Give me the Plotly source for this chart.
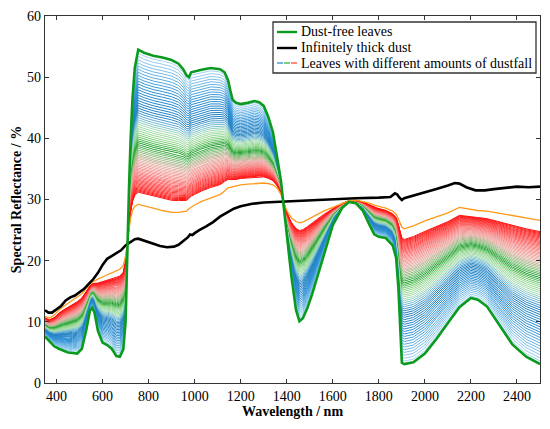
import plotly.graph_objects as go
from plotly.colors import sample_colorscale

# ---------------- data ----------------
wl = [350, 370, 390, 410, 430, 450, 470, 490, 510, 530, 545, 555, 565, 580, 600, 620, 640, 660, 675,
      690, 700, 708, 715, 722, 730, 740, 755, 780, 820, 860, 900, 930, 950, 965, 975, 985, 1000, 1030,
      1070, 1110, 1130, 1145, 1155, 1165, 1180, 1200, 1230, 1260, 1280, 1300, 1320, 1340, 1360, 1375,
      1385, 1400, 1420, 1440, 1455, 1470, 1490, 1510, 1530, 1560, 1600, 1640, 1670, 1700, 1730, 1760,
      1780, 1800, 1830, 1860, 1875, 1885, 1893, 1900, 1910, 1950, 2000, 2050, 2100, 2150, 2200, 2230,
      2270, 2320, 2380, 2440, 2500]

dust_free = [7.6, 6.8, 6.0, 5.6, 5.3, 5.0, 4.9, 4.8, 5.6, 8.8, 11.8, 12.3, 11.5, 8.5, 6.6, 6.2, 5.6, 4.4, 4.3,
             5.5, 10.0, 23.0, 32.0, 40.0, 46.5, 51.5, 54.5, 54.0, 53.5, 53.2, 52.8, 52.2, 51.3, 50.3, 50.0, 50.8, 50.9, 51.2,
             51.5, 51.3, 50.8, 49.5, 47.8, 46.3, 45.8, 45.6, 45.8, 46.1, 45.9, 45.3, 43.5, 41.0, 36.5, 33.0,
             29.5, 24.5, 17.5, 12.0, 10.1, 10.6, 12.3, 14.5, 17.0, 21.0, 25.8, 28.6, 29.6, 29.4, 28.2, 25.8,
             24.3, 23.9, 23.7, 22.5, 20.5, 15.5, 8.5, 3.3, 3.1, 3.4, 4.8, 7.2, 9.8, 12.4, 13.9, 13.6,
             12.5, 9.6, 6.3, 4.3, 3.1]

max_dustfall = [10.9, 10.6, 11.1, 11.9, 12.5, 13.0, 13.5, 14.0, 14.6, 15.5, 16.2, 16.5, 16.7, 17.0, 17.4, 17.7, 18.0, 18.3, 18.6,
                19.2, 20.8, 23.0, 25.3, 27.0, 28.2, 28.9, 29.2, 29.0, 28.6, 28.2, 27.9, 27.9, 28.0, 28.1, 28.5, 28.8, 29.1, 29.7,
                30.3, 30.8, 31.4, 31.9, 32.0, 32.1, 32.2, 32.4, 32.5, 32.6, 32.7, 32.7, 32.6, 32.4, 31.8, 30.8,
                29.7, 28.2, 27.0, 26.4, 26.2, 26.3, 26.7, 27.1, 27.5, 28.1, 28.7, 29.4, 29.8, 29.9, 29.7, 29.4,
                29.1, 28.9, 28.6, 28.1, 27.6, 26.8, 26.0, 25.5, 25.2, 25.7, 26.5, 27.1, 27.8, 28.7, 28.4, 28.2,
                28.1, 27.8, 27.4, 27.0, 26.6]

dust_wl = [350, 365, 380, 400, 420, 440, 460, 480, 500, 520, 540, 560, 580, 600, 620, 640, 660, 680, 700, 720,
           740, 755, 770, 790, 820, 850, 880, 910, 930, 950, 970, 980, 990, 1000, 1020, 1050, 1080, 1110, 1140,
           1170, 1200, 1250, 1300, 1350, 1400, 1450, 1500, 1600, 1700, 1800, 1850, 1870, 1880, 1890, 1900,
           1910, 1950, 2000, 2050, 2100, 2130, 2150, 2180, 2220, 2260, 2300, 2350, 2400, 2450, 2500]
thick_dust = [11.9, 11.5, 11.5, 12.0, 12.6, 13.5, 14.0, 14.3, 14.8, 15.4, 16.2, 17.0, 18.0, 19.3, 20.3, 20.8, 21.2, 21.7, 22.5, 23.0,
              23.5, 23.6, 23.4, 23.1, 22.8, 22.4, 22.2, 22.3, 22.6, 23.2, 23.8, 24.3, 24.2, 24.5, 25.0, 25.6, 26.3, 27.2, 27.9,
              28.5, 28.9, 29.3, 29.5, 29.6, 29.6, 29.8, 29.9, 30.1, 30.2, 30.3, 30.4, 31.0, 30.8, 30.3, 29.9,
              30.2, 30.6, 31.2, 31.7, 32.3, 32.7, 32.6, 32.0, 31.5, 31.5, 31.7, 31.9, 32.1, 32.0, 32.1]

# relative dustfall level of each intermediate curve (0 = dust-free, 1 = heaviest dustfall curve)
dust_levels = [0.022, 0.043, 0.065, 0.086, 0.106, 0.126, 0.146, 0.166, 0.185, 0.204,
               0.222, 0.241, 0.259, 0.277, 0.294, 0.311, 0.328, 0.345, 0.361, 0.377,
               0.393, 0.408, 0.424, 0.439, 0.454, 0.468, 0.482, 0.497, 0.510, 0.524,
               0.538, 0.551, 0.564, 0.577, 0.589, 0.601, 0.614, 0.626, 0.637, 0.649,
               0.660, 0.672, 0.683, 0.693, 0.704, 0.715, 0.725, 0.735, 0.745, 0.755,
               0.765, 0.774, 0.784, 0.793, 0.802, 0.811, 0.820, 0.828, 0.837, 0.845,
               0.853, 0.861, 0.869, 0.877, 0.885, 0.892, 0.900, 0.907, 0.914, 0.921]

x_ticks = [400, 600, 800, 1000, 1200, 1400, 1600, 1800, 2000, 2200, 2400]
y_ticks = [0, 10, 20, 30, 40, 50, 60]

legend_labels = ["Dust-free leaves", "Infinitely thick dust", "Leaves with different amounts of dustfall"]

# ---------------- style ----------------
FONT = "Liberation Serif, Times New Roman, serif"
GREEN = "#0a9a1e"
ORANGE = "#ff9a1a"
line_scale = [
    [0.00, "#a6d4f2"], [0.06, "#6db6e6"], [0.15, "#2b8fd4"], [0.28, "#1f7fc0"],
    [0.33, "#6fb8d8"], [0.38, "#a8ddb0"], [0.44, "#8fd68a"], [0.49, "#3cb043"],
    [0.51, "#1a9a28"], [0.55, "#6fbf6f"], [0.60, "#b0b890"], [0.66, "#eab0a8"],
    [0.75, "#f88a8a"], [0.87, "#ff4a4a"], [1.00, "#ff1010"],
]
n = len(dust_levels)
line_colors = sample_colorscale(line_scale, [i / (n - 1) for i in range(n)])

fig = go.Figure()
for f, c in zip(dust_levels, line_colors):
    y = [(1 - f) * a + f * b for a, b in zip(dust_free, max_dustfall)]
    fig.add_trace(go.Scatter(x=wl, y=y, mode="lines", line=dict(color=c, width=1),
                             showlegend=False, hoverinfo="skip"))

fig.add_trace(go.Scatter(x=wl, y=max_dustfall, mode="lines", line=dict(color=ORANGE, width=1.3),
                         showlegend=False, hoverinfo="skip"))
fig.add_trace(go.Scatter(x=dust_wl, y=thick_dust, mode="lines", line=dict(color="black", width=2.6),
                         name=legend_labels[1], showlegend=False))
fig.add_trace(go.Scatter(x=wl, y=dust_free, mode="lines", line=dict(color=GREEN, width=2.6),
                         name=legend_labels[0], showlegend=False))

# ------------- custom legend (paper coords) -------------
L, R, T, B = 45, 540, 16, 383
def px(xp):
    return (xp - L) / (R - L)
def py(yp):
    return (B - yp) / (B - T)

shapes = [dict(type="rect", xref="paper", yref="paper", x0=px(273), x1=px(536), y0=py(73), y1=py(22),
               line=dict(color="#333333", width=1.3), fillcolor="white", layer="above")]
rows = [32, 48, 63]
shapes.append(dict(type="line", xref="paper", yref="paper", x0=px(277), x1=px(297), y0=py(rows[0]), y1=py(rows[0]),
                   line=dict(color=GREEN, width=2.4), layer="above"))
shapes.append(dict(type="line", xref="paper", yref="paper", x0=px(277), x1=px(297), y0=py(rows[1]), y1=py(rows[1]),
                   line=dict(color="black", width=2.4), layer="above"))
for (a, b), c in zip([(277, 283), (284, 290), (291, 297)], ["#2b8fd4", "#3cb043", "#ff4a4a"]):
    shapes.append(dict(type="line", xref="paper", yref="paper", x0=px(a), x1=px(b), y0=py(rows[2]), y1=py(rows[2]),
                       line=dict(color=c, width=1.3), layer="above"))

annotations = [dict(xref="paper", yref="paper", x=px(299), y=py(r), text=t, showarrow=False,
                    xanchor="left", yanchor="middle", font=dict(family=FONT, size=14, color="black"))
               for r, t in zip(rows, legend_labels)]

axis_common = dict(showline=True, linecolor="#333333", linewidth=1.4, mirror="allticks",
                   ticks="inside", ticklen=4, tickwidth=1.2, tickcolor="#333333",
                   showgrid=False, zeroline=False,
                   tickfont=dict(family=FONT, size=14, color="black"))

fig.update_layout(
    width=550, height=429,
    margin=dict(l=L, r=550 - R, t=T, b=429 - B),
    plot_bgcolor="white", paper_bgcolor="white",
    showlegend=False,
    shapes=shapes, annotations=annotations,
    xaxis=dict(range=[350, 2500], tickvals=x_ticks,
               title=dict(text="<b>Wavelength / nm</b>", font=dict(family=FONT, size=14, color="black"), standoff=2),
               **axis_common),
    yaxis=dict(range=[0, 60], tickvals=y_ticks,
               title=dict(text="<b>Spectral Reflectance / %</b>", font=dict(family=FONT, size=14, color="black"), standoff=2),
               **axis_common),
)

fig.write_html("out.html", config={"displayModeBar": False},
               post_script="document.body.style.margin='0';document.body.style.padding='0';")
